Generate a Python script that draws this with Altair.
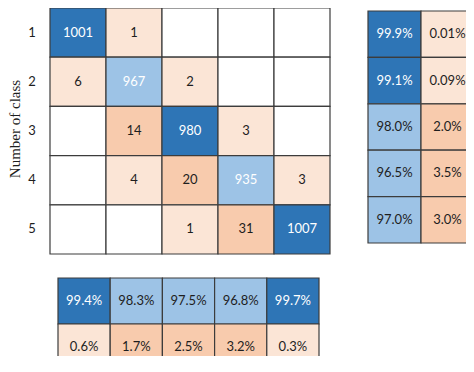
import altair as alt
import pandas as pd

# ---- data ----
classes = ["1", "2", "3", "4", "5"]
confusion = [
    [1001, 1, None, None, None],
    [6, 967, 2, None, None],
    [None, 14, 980, 3, None],
    [None, 4, 20, 935, 3],
    [None, None, 1, 31, 1007],
]
row_correct = [99.9, 99.1, 98.0, 96.5, 97.0]
row_correct_lbl = ["99.9%", "99.1%", "98.0%", "96.5%", "97.0%"]
row_error = [0.01, 0.09, 2.0, 3.5, 3.0]
row_error_lbl = ["0.01%", "0.09%", "2.0%", "3.5%", "3.0%"]
col_correct = [99.4, 98.3, 97.5, 96.8, 99.7]
col_correct_lbl = ["99.4%", "98.3%", "97.5%", "96.8%", "99.7%"]
col_error = [0.6, 1.7, 2.5, 3.2, 0.3]
col_error_lbl = ["0.6%", "1.7%", "2.5%", "3.2%", "0.3%"]

LEVELS = ["hi", "mid", "err2", "err1", "none"]
COLORS = ["#2E75B6", "#9DC3E6", "#F8CBAD", "#FBE5D6", "#FFFFFF"]
FONT = "Lato"
STROKE = "#3c3c3c"


def lvl_count(v, diag):
    if v is None:
        return "none"
    if diag:
        return "hi" if v >= 975 else "mid"
    return "err2" if v >= 10 else "err1"


def lvl_pct(v, correct):
    if correct:
        return "hi" if v >= 99 else "mid"
    return "err2" if v >= 1.5 else "err1"


main_rows = []
for r, row in enumerate(confusion):
    for c, v in enumerate(row):
        main_rows.append({"r": r, "c": c, "label": "" if v is None else str(v),
                          "level": lvl_count(v, r == c)})
main_df = pd.DataFrame(main_rows)
lab_df = pd.DataFrame({"r": list(range(5)), "label": classes})

right_rows = []
for r in range(5):
    right_rows.append({"r": r, "c": 0, "label": row_correct_lbl[r], "level": lvl_pct(row_correct[r], True)})
    right_rows.append({"r": r, "c": 1, "label": row_error_lbl[r], "level": lvl_pct(row_error[r], False)})
right_df = pd.DataFrame(right_rows)

bottom_rows = []
for c in range(5):
    bottom_rows.append({"r": 0, "c": c, "label": col_correct_lbl[c], "level": lvl_pct(col_correct[c], True)})
    bottom_rows.append({"r": 1, "c": c, "label": col_error_lbl[c], "level": lvl_pct(col_error[c], False)})
bottom_df = pd.DataFrame(bottom_rows)


def table(df, xrange, yrange, white_levels, extra=None):
    xs = alt.Scale(range=xrange, paddingInner=0, paddingOuter=0)
    ys = alt.Scale(range=yrange, paddingInner=0, paddingOuter=0)
    base = alt.Chart(df)
    rect = base.mark_rect(stroke=STROKE, strokeWidth=1.2).encode(
        x=alt.X("c:O", scale=xs, axis=None),
        y=alt.Y("r:O", scale=ys, axis=None),
        color=alt.Color("level:N", scale=alt.Scale(domain=LEVELS, range=COLORS), legend=None),
    )
    txt = base.mark_text(font=FONT, fontSize=13).encode(
        x=alt.X("c:O", scale=xs, axis=None),
        y=alt.Y("r:O", scale=ys, axis=None),
        text="label:N",
        color=alt.when(alt.FieldOneOfPredicate(field="level", oneOf=white_levels))
        .then(alt.value("white"))
        .otherwise(alt.value("#1e1e1e")),
    )
    layers = [rect, txt]
    if extra is not None:
        layers += extra(xs, ys)
    return alt.layer(*layers)


def main_extra(xs, ys):
    ylabels = alt.Chart(lab_df).mark_text(font=FONT, fontSize=13, color="#1e1e1e").encode(
        x=alt.value(24),
        y=alt.Y("r:O", scale=ys, axis=None),
        text="label:N",
    )
    title = alt.Chart(pd.DataFrame({"t": ["Number of class"]})).mark_text(
        font="Liberation Serif", fontSize=15, angle=270, color="#1e1e1e", baseline="middle"
    ).encode(x=alt.value(7), y=alt.value(121), text="t:N")
    return [ylabels, title]


main = table(main_df, [42, 322], [0, 246], ["hi", "mid"], main_extra)
right = table(right_df, [360, 466], [3, 235], ["hi"])
bottom = table(bottom_df, [50, 311], [270, 362], ["hi"])

chart = (
    alt.layer(main, right, bottom)
    .resolve_scale(x="independent", y="independent", color="independent")
    .properties(width=458, height=348, autosize=alt.AutoSizeParams(type="none"), padding=0)
    .configure_view(stroke=None)
)

chart.save("out.html", embed_options={"renderer": "svg", "actions": False})
